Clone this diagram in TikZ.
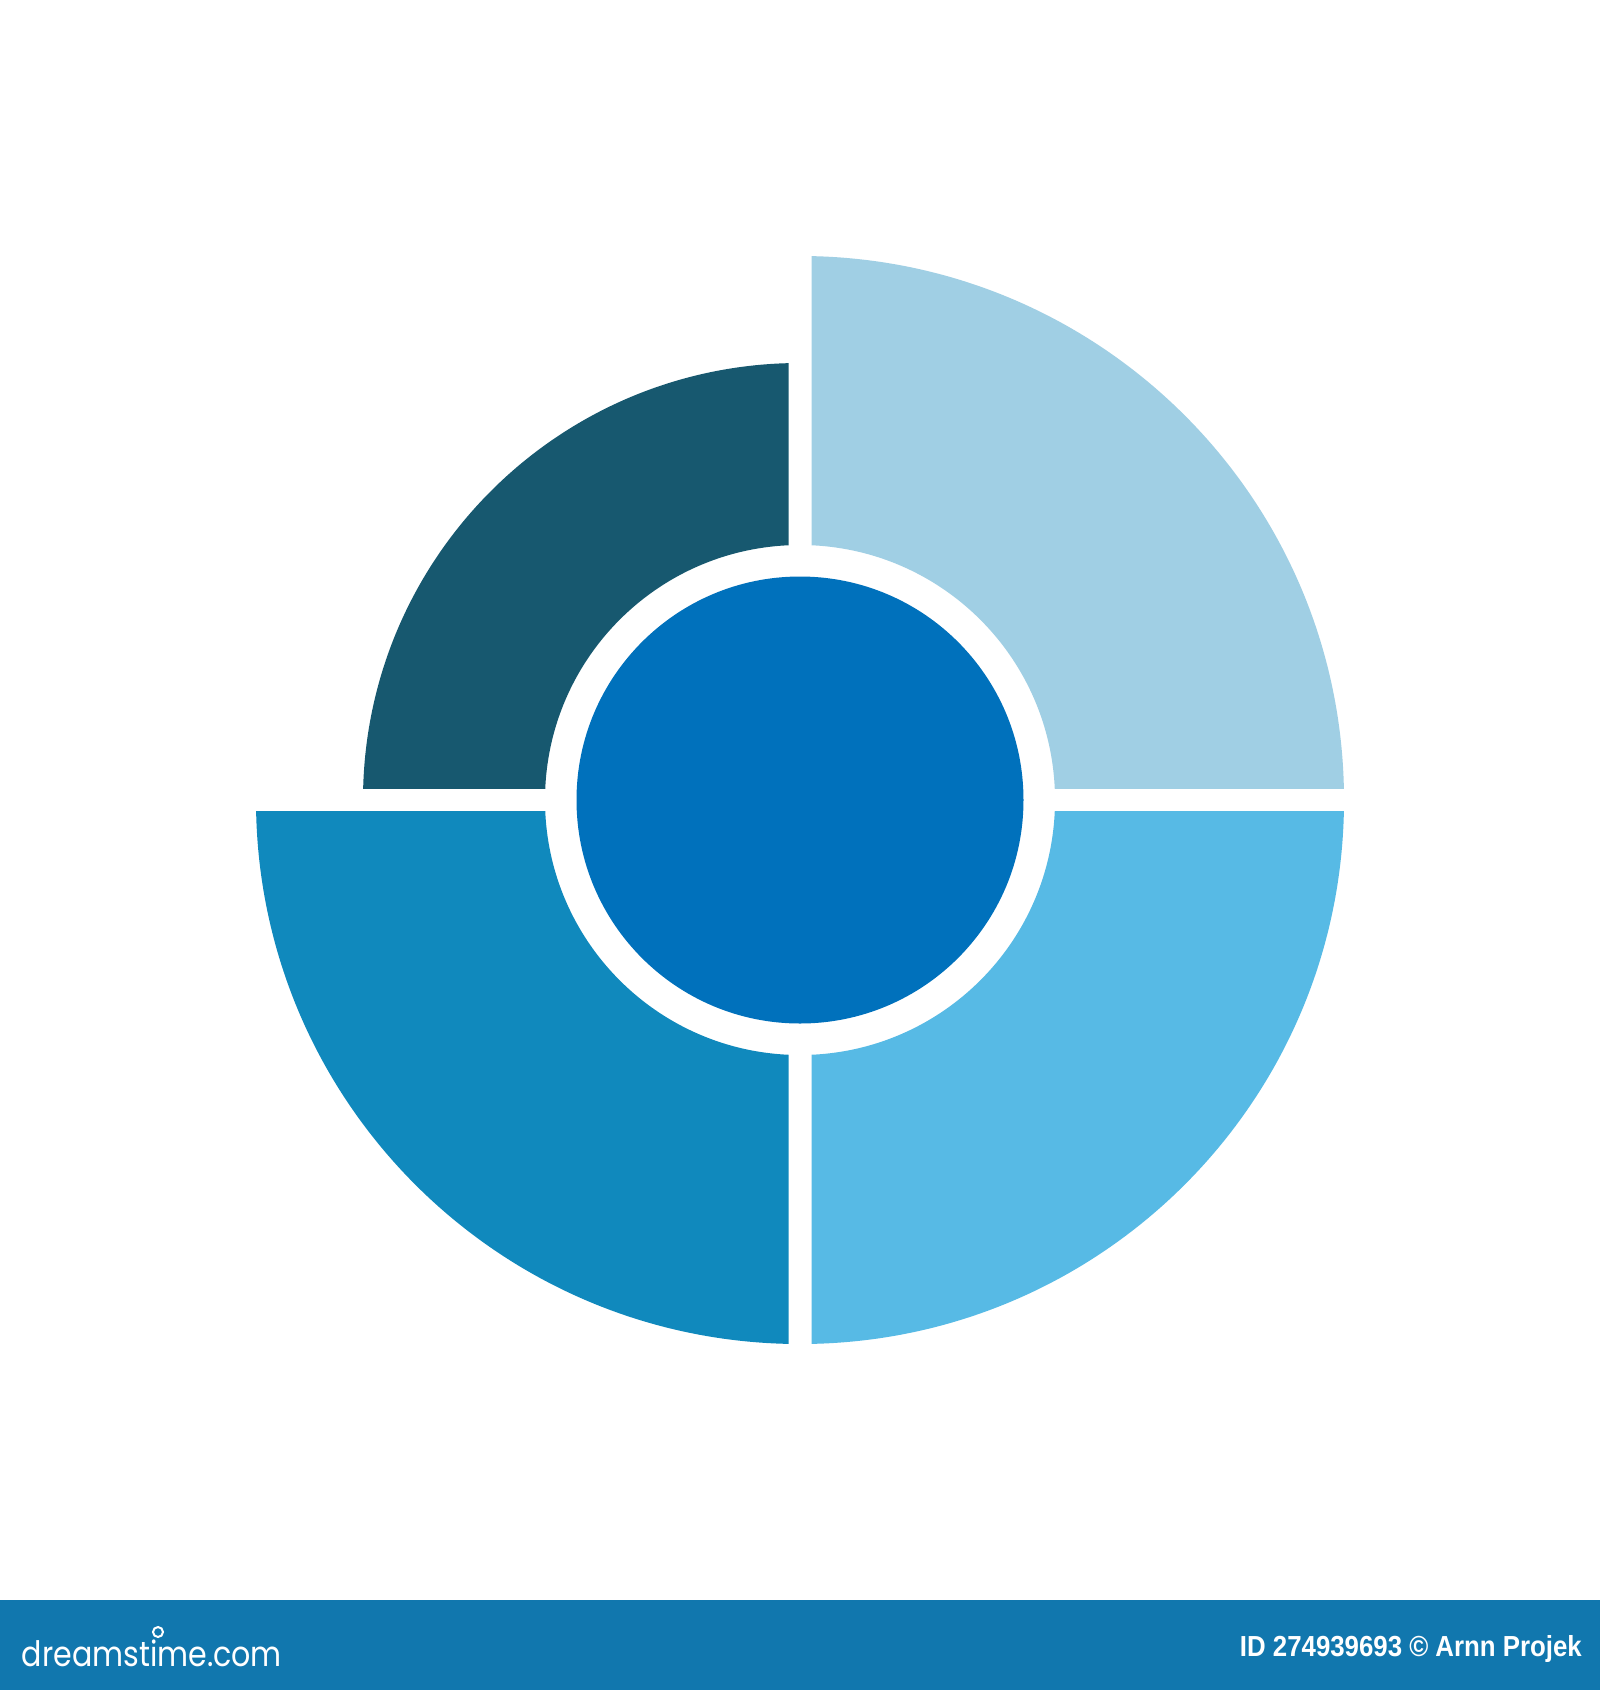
\documentclass[tikz,border=0pt]{standalone}
\usepackage{fontspec}
\setmainfont{Liberation Sans}
\newfontfamily\logofont{Poppins}
\definecolor{cDark}{HTML}{17586F}
\definecolor{cLight}{HTML}{A0CFE4}
\definecolor{cSky}{HTML}{57BAE5}
\definecolor{cMid}{HTML}{1089BD}
\definecolor{cCore}{HTML}{0071BC}
\definecolor{cBar}{HTML}{1177AE}
\tikzset{
  segment/.style={even odd rule},
  bartext/.style={text=white, inner sep=0pt}
}
\begin{document}
\begin{tikzpicture}[x=1pt,y=-1pt]
\useasboundingbox (0,0) rectangle (1600,1690);
\fill[white] (0,0) rectangle (1600,1690);
\coordinate (c) at (800,800);
% top-left segment
\begin{scope}
\clip (0,0) rectangle (788.5,788.5);
\fill[cDark,segment] (c) circle[radius=437pt] (c) circle[radius=255pt];
\end{scope}
% top-right segment
\begin{scope}
\clip (811.5,0) rectangle (1600,788.5);
\fill[cLight,segment] (c) circle[radius=544pt] (c) circle[radius=255pt];
\end{scope}
% bottom-right segment
\begin{scope}
\clip (811.5,811.5) rectangle (1600,1600);
\fill[cSky,segment] (c) circle[radius=544pt] (c) circle[radius=255pt];
\end{scope}
% bottom-left segment
\begin{scope}
\clip (0,811.5) rectangle (788.5,1600);
\fill[cMid,segment] (c) circle[radius=544pt] (c) circle[radius=255pt];
\end{scope}
% core
\fill[cCore] (c) circle[radius=223.5pt];
% bottom bar
\fill[cBar] (0,1600) rectangle (1600,1690);
\node[bartext, anchor=base west, font=\logofont\fontsize{35}{35}\selectfont] (logo) at (21.6,1666) {\scalebox{0.86}[1]{dreamstime.com}};
\draw[white, line width=2pt] (158,1632) circle[radius=5pt];
\node[bartext, anchor=base east, font=\bfseries\fontsize{29}{29}\selectfont] (credit) at (1582,1656) {\scalebox{0.89}[1]{ID 274939693 © Arnn Projek}};
\end{tikzpicture}
\end{document}
